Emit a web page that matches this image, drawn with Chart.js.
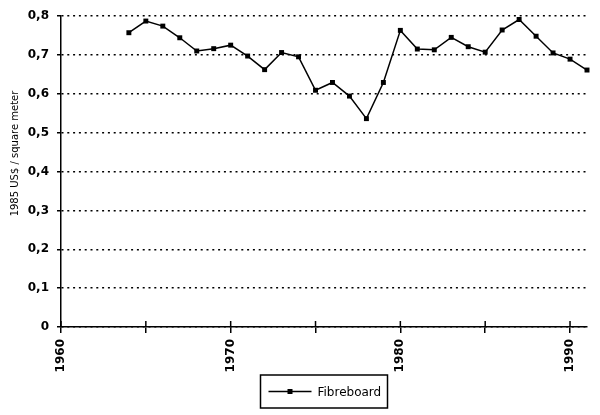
<!DOCTYPE html>
<html>
<head>
<meta charset="utf-8">
<script src="https://cdn.jsdelivr.net/npm/chart.js@4"></script>
<style>
  body { margin: 0; background: #fff; }
  #wrap { width: 600px; height: 415px; }
</style>
</head>
<body>
<div id="wrap"><canvas id="myChart" width="600" height="415"></canvas></div>
<script>
// data
const years = [1964, 1965, 1966, 1967, 1968, 1969, 1970, 1971, 1972, 1973, 1974, 1975, 1976, 1977,
  1978, 1979, 1980, 1981, 1982, 1983, 1984, 1985, 1986, 1987, 1988, 1989, 1990, 1991];
const prices = [0.757, 0.787, 0.774, 0.744, 0.710, 0.716, 0.725, 0.697, 0.662, 0.706, 0.695, 0.609, 0.629, 0.594,
  0.536, 0.629, 0.763, 0.715, 0.713, 0.745, 0.721, 0.707, 0.764, 0.791, 0.748, 0.705, 0.689, 0.661];
const seriesName = 'Fibreboard';
const yTitle = '1985 US$ / square meter';
const xLabelYears = [1960, 1970, 1980, 1990];

const FONT = 'DejaVu Sans';

// small extras: ticks crossing the x axis, y title, boxed legend
const extras = {
  id: 'extras',
  afterDraw(chart) {
    const ctx = chart.ctx;
    const area = chart.chartArea;
    const xs = chart.scales.x;
    ctx.save();
    ctx.strokeStyle = '#000';
    ctx.lineWidth = 1.5;
    xs.ticks.forEach(t => {
      const px = xs.getPixelForValue(t.value);
      ctx.beginPath();
      ctx.moveTo(px, area.bottom - 6);
      ctx.lineTo(px, area.bottom);
      ctx.stroke();
    });

    // y axis title
    ctx.fillStyle = '#000';
    ctx.font = '10px "' + FONT + '"';
    ctx.textAlign = 'center';
    ctx.textBaseline = 'middle';
    ctx.translate(15, (area.top + area.bottom) / 2 - 18);
    ctx.rotate(-Math.PI / 2);
    ctx.fillText(yTitle, 0, 0);
    ctx.restore();

    // legend box
    const ds = chart.data.datasets[0];
    const cx = (area.left + area.right) / 2;
    const w = 127, h = 33, top = 375;
    const left = cx - w / 2;
    ctx.save();
    ctx.strokeStyle = '#000';
    ctx.lineWidth = 1.5;
    ctx.strokeRect(left, top, w, h);
    const ly = top + h / 2;
    ctx.beginPath();
    ctx.moveTo(left + 8, ly);
    ctx.lineTo(left + 51, ly);
    ctx.stroke();
    ctx.fillStyle = '#000';
    ctx.fillRect(left + 27, ly - 2.5, 5, 5);
    ctx.font = '12px "' + FONT + '"';
    ctx.textAlign = 'left';
    ctx.textBaseline = 'middle';
    ctx.fillText(ds.label, left + 57, ly + 1);
    ctx.restore();
  }
};

const data = {
  datasets: [{
    label: seriesName,
    data: years.map((y, i) => ({ x: y, y: prices[i] })),
    borderColor: '#000',
    borderWidth: 1.5,
    pointStyle: 'rect',
    pointRadius: 3.5,
    pointBackgroundColor: '#000',
    pointBorderWidth: 0,
    tension: 0,
    clip: false
  }]
};

const config = {
  type: 'line',
  data,
  plugins: [extras],
  options: {
    responsive: false,
    animation: false,
    layout: { padding: { top: 16, right: 13, left: 0, bottom: 0 } },
    plugins: {
      legend: { display: false },
      tooltip: { enabled: false }
    },
    scales: {
      x: {
        type: 'linear',
        min: 1960,
        max: 1991,
        afterBuildTicks: s => { s.ticks = s.ticks.filter(t => t.value % 5 === 0); },
        afterFit: s => { s.height = 88; },
        border: { color: '#000', width: 1.5 },
        grid: { drawOnChartArea: false, drawTicks: true, tickLength: 6, color: '#000', lineWidth: 1.5 },
        ticks: {
          stepSize: 5,
          autoSkip: false,
          maxRotation: 90,
          minRotation: 90,
          padding: 6,
          color: '#000',
          font: { family: FONT, size: 12, weight: 'bold' },
          callback: v => xLabelYears.includes(v) ? String(v) : ''
        }
      },
      y: {
        min: 0,
        max: 0.8,
        afterFit: s => { s.width = 61; },
        border: { color: '#000', width: 1.5, dash: [2, 3.8] },
        grid: {
          color: '#000',
          lineWidth: 1.5,
          tickBorderDash: [],
          drawTicks: true,
          tickLength: 4
        },
        ticks: {
          stepSize: 0.1,
          padding: 8,
          color: '#000',
          font: { family: FONT, size: 12, weight: 'bold' },
          callback: v => v === 0 ? '0' : v.toFixed(1).replace('.', ',')
        }
      }
    }
  }
};

const myChart = new Chart(document.getElementById('myChart'), config);
</script>
</body>
</html>
